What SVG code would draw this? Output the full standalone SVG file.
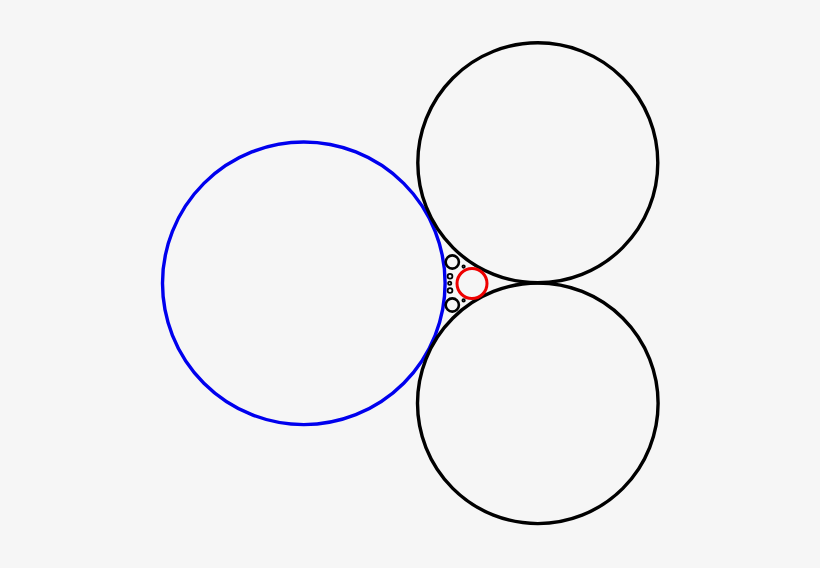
<svg xmlns="http://www.w3.org/2000/svg" width="820" height="568" viewBox="0 0 820 568">
  <style>
    .c { fill: none; stroke-width: 3.4; }
    .k { stroke: #000000; }
    .b { stroke: #0000ee; }
    .r { stroke: #ee0000; stroke-width: 3; }
    .s { fill: none; stroke: #000000; stroke-width: 2.6; }
    .t { fill: none; stroke: #000000; stroke-width: 1.8; }
  </style>
  <rect x="0" y="0" width="820" height="568" fill="#f6f6f6"/>
  <g id="blue-circle"><circle class="c b" cx="303.8" cy="283.3" r="141.3"/></g>
  <g id="top-circle"><circle class="c k" cx="537.8" cy="162.8" r="120"/></g>
  <g id="bottom-circle"><circle class="c k" cx="537.8" cy="403.3" r="120.3"/></g>
  <g id="red-circle"><circle class="c r" cx="472" cy="283.5" r="15"/></g>
  <g id="small-top"><circle class="s" cx="452.3" cy="262" r="6.6"/></g>
  <g id="small-bottom"><circle class="s" cx="452.3" cy="305" r="6.6"/></g>
  <g id="tiny-1"><circle class="t" cx="450" cy="276.3" r="2.4"/></g>
  <g id="tiny-2"><circle class="t" cx="449.7" cy="283.3" r="1.6"/></g>
  <g id="tiny-3"><circle class="t" cx="450" cy="290.5" r="2.4"/></g>
  <g id="cusp-top"><circle class="t" cx="463.6" cy="266.6" r="1.2"/></g>
  <g id="cusp-bottom"><circle class="t" cx="463.6" cy="300.4" r="1.2"/></g>
</svg>
